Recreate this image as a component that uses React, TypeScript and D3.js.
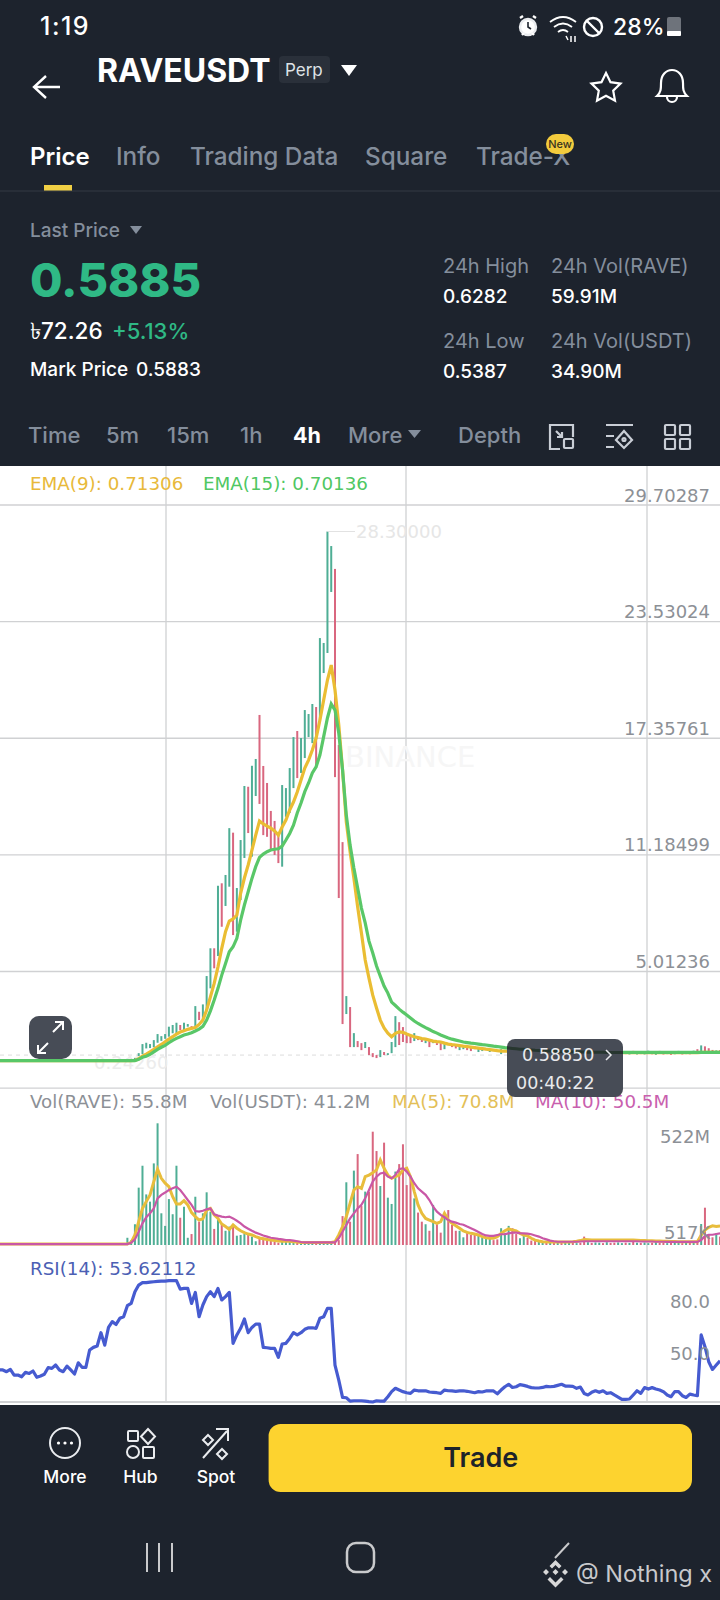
// RAVEUSDT perp screen: price candles with EMA, volume with MA, RSI pane
import { useEffect, useRef } from 'react'
import * as d3 from 'd3'

const UI = 'Inter, Roboto, sans-serif'
const CHART_FONT = '"DejaVu Sans", sans-serif'
const BG = '#1d232d'
const GRAY = '#848e9c'
const UP = '#4fae95'
const DOWN = '#d9677f'

const priceTicks = [29.70287, 23.53024, 17.35761, 11.18499, 5.01236, -1.16]
const rsiTicks = [80, 50]

const candleDir = (
  'grggrgrgrg' + 'ggrgrggrgr' + 'ggrgrggrgg' + 'grgggggggg' + 'gggggggrgg' +
  'rgrgggrgrg' + 'grgggrggrr' + 'rrrrggggrg' + 'gggrggggrr' + 'rgrgrrgrrr' +
  'grgggrrrrg' + 'rrgrgrrgrr' + 'rggrrrgggg' + 'rrgggrrggr' + 'rrggrgrgrg' +
  'grgrrgrggr' + 'grrggrgrgr' + 'ggrgrrgrgg' + 'rgrgrgrrrg' + 'r'
).split('')

const candleHigh = [
  .34, .36, .33, .35, .37, .33, .34, .36, .35, .33,
  .34, .37, .36, .33, .35, .34, .36, .37, .33, .35,
  .36, .34, .33, .37, .35, .36, .34, .38, .36, .35,
  .38, .36, .37, .39, .40, .44, .69, 1.17, 1.24, 1.17,
  1.38, 1.70, 1.59, 1.70, 2.09, 2.18, 2.30, 2.18, 2.30, 2.23,
  2.12, 3.18, 2.88, 3.27, 4.77, 6.24, 6.24, 9.55, 9.68, 10.12,
  12.60, 12.36, 9.43, 11.97, 14.83, 14.79, 15.90, 16.26, 18.59, 15.89,
  14.99, 13.51, 12.98, 12.34, 14.88, 14.72, 15.78, 17.42, 17.74, 17.37,
  18.85, 18.64, 19.17, 19.01, 22.66, 22.40, 28.30, 27.53, 26.32, 17.00,
  11.86, 3.71, 3.13, 1.75, 1.33, 1.22, 1.28, 1.01, .69, .59,
  .85, .75, .69, 1.28, 2.65, 2.33, 2.07, 1.75, 1.59, 1.75,
  1.49, 1.49, 1.38, 1.38, 1.28, 1.22, 1.22, 1.17, 1.22, 1.12,
  1.12, 1.07, 1.01, 1.01, .96, 1.07, .96, .96, .96, .90,
  .90, .85, .90, .85, .88, .84, .90, .86, .82, .85,
  .83, .80, .84, .82, .86, .81, .79, .83, .80, .82,
  .85, .80, .78, .82, .95, .84, .81, .79, .83, .80,
  .82, .78, .81, .79, .83, .80, .78, .81, .79, .80,
  .78, .82, .79, .77, .81, .78, .80, .77, .79, .81,
  .78, .80, .79, .82, .90, 1.10, 1.05, .95, .86, .84, .85,
]

const candleLow = [
  .26, .24, .27, .25, .26, .24, .27, .25, .26, .24,
  .27, .26, .24, .25, .27, .26, .24, .25, .27, .26,
  .24, .27, .25, .26, .24, .27, .25, .26, .27, .24,
  .26, .27, .25, .28, .29, .31, .53, .64, .94, .96,
  1.00, 1.24, 1.34, 1.45, 1.56, 1.74, 1.74, 1.91, 1.91, 2.09,
  2.00, 2.09, 2.44, 2.44, 2.97, 4.12, 5.18, 5.83, 7.38, 8.48,
  9.50, 6.94, 7.12, 8.79, 11.02, 12.34, 11.09, 14.30, 13.88, 12.23,
  12.14, 11.44, 11.18, 10.75, 10.56, 13.20, 13.40, 14.72, 15.25, 15.52,
  16.31, 17.42, 17.10, 15.78, 18.32, 20.81, 21.87, 25.10, 15.30, 8.90,
  2.23, 2.76, 1.01, 1.01, 1.01, .85, .96, .59, .48, .43,
  .48, .59, .59, .69, 1.01, 1.12, 1.28, 1.22, 1.22, 1.33,
  1.38, 1.28, 1.22, 1.01, 1.22, 1.12, .85, .90, 1.12, 1.01,
  .94, .85, .90, .85, .80, .90, .75, .80, .85, .75,
  .80, .75, .64, .75, .74, .68, .72, .70, .66, .71,
  .69, .65, .70, .68, .66, .67, .64, .69, .66, .68,
  .70, .66, .62, .65, .74, .68, .66, .63, .67, .65,
  .66, .62, .66, .64, .67, .64, .62, .65, .62, .64,
  .62, .66, .63, .60, .65, .62, .64, .60, .63, .66,
  .62, .64, .63, .66, .72, .74, .70, .70, .72, .74, .72,
]

const ema9 = [
  .29, .29, .29, .29, .29, .29, .29, .29, .29, .29,
  .29, .29, .29, .29, .29, .29, .29, .29, .29, .29,
  .29, .29, .29, .29, .29, .29, .29, .29, .29, .29,
  .29, .29, .29, .29, .29, .30, .39, .53, .64, .76,
  .89, 1.03, 1.15, 1.29, 1.43, 1.56, 1.70, 1.81, 1.87, 1.95,
  2.00, 2.05, 2.21, 2.44, 2.97, 3.67, 4.38, 5.26, 6.24, 7.12,
  7.68, 7.79, 8.00, 9.15, 9.96, 10.65, 11.44, 12.23, 12.98, 12.82,
  12.71, 12.60, 12.45, 12.23, 12.66, 13.03, 13.56, 13.98, 14.51, 15.15,
  15.78, 16.20, 16.73, 17.37, 18.32, 19.38, 20.44, 21.23, 19.91, 18.06,
  15.68, 12.92, 11.35, 9.96, 8.44, 7.05, 5.62, 4.66, 3.76, 3.08,
  2.44, 2.02, 1.75, 1.56, 1.74, 1.82, 1.79, 1.70, 1.63, 1.56,
  1.51, 1.46, 1.43, 1.38, 1.33, 1.30, 1.28, 1.22, 1.17, 1.14,
  1.12, 1.09, 1.06, 1.04, 1.01, .98, .96, .93, .90, .88,
  .85, .82, .80, .80, .79, .78, .78, .77, .77, .76,
  .76, .75, .75, .75, .74, .74, .74, .74, .73, .73,
  .73, .73, .73, .73, .73, .73, .72, .72, .72, .72,
  .72, .72, .72, .72, .72, .72, .72, .72, .72, .72,
  .72, .72, .72, .72, .72, .72, .72, .72, .72, .72,
  .72, .72, .72, .72, .72, .73, .73, .73, .73, .73, .73,
]

const ema15 = [
  .29, .29, .29, .29, .29, .29, .29, .29, .29, .29,
  .29, .29, .29, .29, .29, .29, .29, .29, .29, .29,
  .29, .29, .29, .29, .29, .29, .29, .29, .29, .29,
  .29, .29, .29, .29, .29, .29, .36, .47, .53, .62,
  .76, .89, 1.00, 1.10, 1.24, 1.37, 1.47, 1.56, 1.65, 1.70,
  1.77, 1.86, 1.96, 2.11, 2.44, 2.93, 3.50, 4.12, 4.82, 5.44,
  6.06, 6.32, 6.77, 7.73, 8.53, 9.23, 9.94, 10.56, 11.05, 11.23,
  11.35, 11.44, 11.48, 11.51, 11.65, 11.97, 12.32, 12.76, 13.40, 13.93,
  14.53, 14.99, 15.52, 15.85, 16.47, 17.44, 18.43, 19.17, 18.85, 17.63,
  15.68, 13.29, 11.70, 10.49, 9.43, 8.37, 7.58, 6.62, 5.99, 5.30,
  4.77, 4.24, 3.87, 3.39, 3.21, 3.02, 2.86, 2.71, 2.55, 2.39,
  2.26, 2.15, 2.04, 1.94, 1.83, 1.75, 1.65, 1.57, 1.49, 1.43,
  1.38, 1.33, 1.28, 1.25, 1.22, 1.20, 1.17, 1.14, 1.12, 1.09,
  1.06, 1.04, 1.01, .98, .96, .94, .92, .90, .89, .87,
  .86, .84, .83, .82, .81, .80, .79, .78, .77, .77,
  .76, .76, .75, .75, .75, .74, .74, .74, .74, .74,
  .73, .73, .73, .73, .73, .73, .73, .73, .73, .73,
  .73, .73, .73, .73, .73, .73, .73, .73, .73, .73,
  .73, .73, .73, .73, .73, .73, .73, .73, .73, .73, .73,
]

const volume = [
  4, 4, 3, 4, 5, 4, 3, 4, 4, 5,
  3, 4, 4, 3, 5, 4, 4, 3, 4, 5,
  4, 3, 4, 4, 5, 3, 4, 4, 5, 4,
  4, 5, 6, 31, 21, 89, 246, 340, 217, 186,
  350, 522, 136, 82, 197, 132, 340, 117, 164, 31,
  47, 207, 100, 136, 226, 143, 69, 107, 89, 61,
  79, 90, 40, 43, 47, 50, 36, 16, 29, 31,
  29, 24, 13, 10, 19, 19, 19, 16, 13, 7,
  10, 13, 16, 16, 16, 13, 13, 12, 14, 21,
  124, 269, 100, 319, 390, 167, 229, 229, 486, 403,
  253, 439, 203, 176, 315, 347, 432, 257, 296, 200,
  139, 100, 89, 61, 172, 89, 53, 129, 150, 86,
  61, 61, 33, 57, 43, 46, 43, 33, 29, 29,
  21, 24, 72, 50, 82, 72, 47, 29, 39, 31,
  19, 19, 16, 14, 13, 11, 9, 10, 12, 9,
  10, 11, 8, 10, 36, 12, 9, 11, 10, 8,
  12, 9, 10, 11, 8, 10, 9, 24, 10, 9,
  11, 8, 10, 12, 9, 10, 8, 11, 9, 10,
  8, 11, 9, 10, 9, 90, 160, 43, 33, 50, 36,
]

const ma5 = [
  4, 4, 4, 4, 4, 4, 4, 4, 4, 4,
  4, 4, 4, 4, 4, 4, 4, 4, 4, 4,
  4, 4, 4, 4, 4, 4, 4, 4, 4, 4,
  4, 4, 4, 4, 11, 43, 100, 157, 186, 215,
  272, 325, 286, 265, 250, 207, 176, 176, 190, 172,
  139, 122, 107, 112, 150, 157, 129, 114, 90, 79,
  67, 86, 72, 61, 53, 47, 43, 36, 30, 27,
  24, 21, 19, 17, 16, 16, 16, 14, 13, 11,
  11, 11, 11, 11, 11, 11, 11, 11, 14, 43,
  79, 122, 179, 236, 250, 243, 293, 300, 310, 322,
  365, 329, 300, 286, 293, 300, 322, 329, 293, 229,
  172, 136, 114, 107, 100, 93, 100, 136, 107, 93,
  83, 72, 60, 54, 50, 47, 43, 36, 31, 29,
  29, 36, 50, 61, 69, 64, 60, 50, 43, 39,
  29, 21, 17, 14, 13, 13, 13, 13, 13, 13,
  13, 14, 16, 19, 24, 23, 21, 21, 21, 21,
  21, 21, 21, 21, 21, 21, 21, 21, 20, 19,
  19, 18, 18, 17, 17, 16, 16, 15, 15, 14,
  14, 14, 14, 14, 14, 43, 64, 76, 82, 79, 82,
]

const ma10 = [
  4, 4, 4, 4, 4, 4, 4, 4, 4, 4,
  4, 4, 4, 4, 4, 4, 4, 4, 4, 4,
  4, 4, 4, 4, 4, 4, 4, 4, 4, 4,
  4, 4, 4, 4, 10, 24, 57, 93, 119, 136,
  157, 200, 215, 225, 236, 243, 250, 236, 215, 193,
  172, 146, 143, 147, 153, 157, 132, 126, 122, 119,
  122, 114, 104, 93, 79, 70, 61, 53, 47, 41,
  36, 31, 29, 26, 24, 21, 21, 19, 16, 13,
  11, 11, 11, 11, 11, 11, 11, 11, 11, 29,
  57, 86, 114, 136, 157, 172, 200, 236, 272, 293,
  307, 310, 293, 286, 300, 325, 329, 315, 293, 265,
  243, 229, 215, 193, 164, 143, 129, 119, 107, 100,
  96, 90, 87, 79, 72, 64, 56, 47, 41, 39,
  39, 43, 46, 47, 50, 53, 53, 51, 50, 49,
  46, 41, 36, 29, 24, 19, 16, 14, 14, 14,
  14, 14, 14, 15, 16, 16, 16, 16, 16, 16,
  16, 16, 16, 16, 16, 16, 16, 16, 16, 15,
  15, 15, 15, 14, 14, 14, 13, 13, 13, 13,
  13, 13, 13, 13, 13, 21, 39, 44, 44, 47, 50,
]

const rsi = [
  41.0, 40.0, 41.3, 38.1, 38.1, 37.1, 39.6, 39.0, 40.4, 36.8,
  37.5, 38.5, 42.3, 41.9, 43.8, 41.0, 40.0, 43.2, 41.0, 38.7,
  45.1, 42.5, 42.5, 52.4, 53.9, 54.7, 62.3, 55.2, 65.3, 68.6,
  67.0, 70.5, 71.4, 77.7, 79.0, 85.7, 89.5, 90.9, 90.9, 91.2,
  91.4, 91.6, 91.8, 91.8, 92.0, 92.0, 92.0, 87.2, 87.6, 87.6,
  79.0, 85.3, 71.4, 78.1, 82.9, 85.7, 82.9, 87.6, 81.0, 82.9,
  85.3, 56.2, 61.0, 64.8, 70.1, 62.3, 65.3, 67.2, 67.2, 53.9,
  53.7, 53.3, 53.3, 48.2, 55.8, 56.2, 59.0, 62.3, 61.0, 62.3,
  64.2, 65.1, 65.1, 64.8, 70.5, 71.4, 76.2, 76.2, 43.8, 35.2,
  25.3, 25.1, 23.2, 23.4, 23.4, 23.4, 23.2, 22.9, 22.7, 23.4,
  23.2, 23.2, 25.7, 28.6, 30.5, 29.5, 28.6, 28.0, 27.6, 29.5,
  29.1, 29.1, 29.1, 28.4, 28.2, 28.0, 27.6, 29.5, 29.1, 29.0,
  28.8, 29.0, 29.1, 28.8, 28.4, 28.0, 28.6, 28.4, 29.0, 29.0,
  29.0, 27.4, 29.5, 31.4, 32.8, 31.0, 31.4, 32.6, 32.2, 31.6,
  30.9, 30.7, 30.7, 31.0, 31.6, 31.4, 31.6, 32.2, 32.8, 31.8,
  31.8, 31.6, 30.5, 31.2, 27.6, 26.7, 28.2, 29.1, 28.2, 29.1,
  27.6, 28.0, 26.7, 25.5, 24.2, 24.2, 24.4, 26.7, 29.1, 27.6,
  30.9, 30.1, 30.9, 30.1, 29.5, 28.6, 26.7, 25.7, 28.6, 28.6,
  26.3, 25.3, 27.2, 26.7, 26.3, 61.0, 54.3, 45.7, 41.3, 43.8, 46.3,
]

const W = 720, H = 1600
const CHART_TOP = 466, CHART_BOTTOM = 1405

function ChartPanes() {
  const ref = useRef<SVGGElement>(null)

  useEffect(() => {
    const g = d3.select(ref.current)
    g.selectAll('*').remove()

    const x = d3.scaleLinear().domain([0, 190]).range([2.8, 720.05])
    const yPrice = d3.scaleLinear().domain([-1.16, 29.70287]).range([1088.1, 505])
    const yVol = d3.scaleLinear().domain([0, 522]).range([1245, 1123.3])
    const yRsi = d3.scaleLinear().domain([50, 80]).range([1354.2, 1301.7])
    const gridColor = '#d0d1d3'

    g.append('rect').attr('y', CHART_TOP).attr('width', W).attr('height', CHART_BOTTOM - CHART_TOP).attr('fill', '#fff')

    // grid
    g.append('g').selectAll('line').data(priceTicks).join('line')
      .attr('x1', 0).attr('x2', W)
      .attr('y1', (d) => yPrice(d)).attr('y2', (d) => yPrice(d))
      .attr('stroke', gridColor).attr('stroke-width', 1.3)
    g.append('g').selectAll('line').data([166, 406, 647]).join('line')
      .attr('x1', (d) => d).attr('x2', (d) => d)
      .attr('y1', CHART_TOP).attr('y2', 1402)
      .attr('stroke', gridColor).attr('stroke-width', 1.3)
    g.append('line').attr('x1', 0).attr('x2', W).attr('y1', 1402).attr('y2', 1402)
      .attr('stroke', gridColor).attr('stroke-width', 2)

    // watermark
    g.append('text').attr('x', 345).attr('y', 767).text('BINANCE')
      .attr('font-family', CHART_FONT).attr('font-size', 29).attr('fill', '#f6f6f6')

    // price axis labels sit just above their grid line
    const priceAxis = g.append('g').attr('transform', 'translate(710,0)')
      .call(d3.axisLeft(yPrice).tickValues(priceTicks.slice(0, 5)).tickSize(0).tickFormat(d3.format('.5f')))
    priceAxis.select('.domain').remove()
    priceAxis.selectAll('text')
      .attr('font-family', CHART_FONT).attr('font-size', 18).attr('fill', '#8c9096')
      .attr('x', 0).attr('dy', -4).attr('dominant-baseline', 'auto')

    // last price dashed line
    g.append('line').attr('x1', 0).attr('x2', 507).attr('y1', yPrice(0.5885)).attr('y2', yPrice(0.5885))
      .attr('stroke', '#dcdcdc').attr('stroke-dasharray', '4 4')

    // candles
    g.append('g').selectAll('rect').data(candleHigh).join('rect')
      .attr('x', (_, i) => x(i) - 1).attr('width', 2)
      .attr('y', (d) => yPrice(d))
      .attr('height', (d, i) => Math.max(1, yPrice(candleLow[i]) - yPrice(d)))
      .attr('fill', (_, i) => (candleDir[i] === 'g' ? UP : DOWN))

    // high / low notes
    g.append('line').attr('x1', x(86)).attr('x2', 355).attr('y1', yPrice(28.3)).attr('y2', yPrice(28.3))
      .attr('stroke', '#e2e2e2')
    g.append('text').attr('x', 356).attr('y', yPrice(28.3) + 6).text('28.30000')
      .attr('font-family', CHART_FONT).attr('font-size', 18).attr('fill', '#e6e6e6')
    g.append('text').attr('x', 94).attr('y', 1069).text('0.24260')
      .attr('font-family', CHART_FONT).attr('font-size', 18).attr('fill', '#ececec')

    // lines run off the left edge of the pane, so each is led in from one slot before its first value
    const leadIn = (values: number[]) => [values[0], ...values]
    const priceLine = d3.line<number>().x((_, i) => x(i - 1)).y((d) => yPrice(d))
    g.append('path').attr('d', priceLine(leadIn(ema9))).attr('fill', 'none').attr('stroke', '#eabd33').attr('stroke-width', 3.2)
    g.append('path').attr('d', priceLine(leadIn(ema15))).attr('fill', 'none').attr('stroke', '#59c768').attr('stroke-width', 3.2)

    // volume pane
    g.append('g').selectAll('rect').data(volume).join('rect')
      .attr('x', (_, i) => x(i) - 1).attr('width', 2)
      .attr('y', (d) => yVol(d)).attr('height', (d) => yVol(0) - yVol(d))
      .attr('fill', (_, i) => (candleDir[i] === 'g' ? UP : DOWN))
    const volLine = d3.line<number>().x((_, i) => x(i - 1)).y((d) => yVol(d))
    g.append('path').attr('d', volLine(leadIn(ma5))).attr('fill', 'none').attr('stroke', '#e8bd3c').attr('stroke-width', 3)
    g.append('path').attr('d', volLine(leadIn(ma10))).attr('fill', 'none').attr('stroke', '#c957a6').attr('stroke-width', 2.2)

    // RSI pane
    const rsiLine = d3.line<number>().x((_, i) => x(i - 1)).y((d) => yRsi(d))
    g.append('path').attr('d', rsiLine(leadIn(rsi))).attr('fill', 'none').attr('stroke', '#465bd0').attr('stroke-width', 3.2)
      .attr('stroke-linejoin', 'round')
    g.append('g').selectAll('text').data(rsiTicks).join('text')
      .attr('x', 710).attr('y', (d) => yRsi(d) + 6).attr('text-anchor', 'end')
      .text((d) => d.toFixed(1))
      .attr('font-family', CHART_FONT).attr('font-size', 18).attr('fill', '#8c9096')

    // volume axis labels
    g.append('text').attr('x', 710).attr('y', 1143).attr('text-anchor', 'end').text('522M')
      .attr('font-family', CHART_FONT).attr('font-size', 18).attr('fill', '#8c9096')
    g.append('text').attr('x', 664).attr('y', 1239).text('517K')
      .attr('font-family', CHART_FONT).attr('font-size', 18).attr('fill', '#8c9096')

    // pane legends
    const legend = (tx: number, ty: number, label: string, fill: string) =>
      g.append('text').attr('x', tx).attr('y', ty).text(label)
        .attr('font-family', CHART_FONT).attr('font-size', 18.3).attr('fill', fill)
    legend(30, 490, 'EMA(9): 0.71306', '#e8b93a')
    legend(203, 490, 'EMA(15): 0.70136', '#4fc763')
    legend(30, 1108, 'Vol(RAVE): 55.8M', '#8c9096')
    legend(210, 1108, 'Vol(USDT): 41.2M', '#8c9096')
    legend(392, 1108, 'MA(5): 70.8M', '#e3bf58')
    legend(535, 1108, 'MA(10): 50.5M', '#c95fae')
    legend(30, 1275, 'RSI(14): 53.62112', '#4c5fb4')

    // countdown tag, the EMA line shows through it
    const tag = { x: 507, y: 1039, w: 116, h: 58 }
    g.append('clipPath').attr('id', 'tag-clip').append('rect')
      .attr('x', tag.x).attr('y', tag.y).attr('width', tag.w).attr('height', tag.h)
    g.append('rect').attr('x', tag.x).attr('y', tag.y).attr('width', tag.w).attr('height', tag.h)
      .attr('rx', 8).attr('fill', '#474c56')
    g.append('path').attr('d', priceLine(leadIn(ema15))).attr('fill', 'none').attr('stroke', '#27362f')
      .attr('stroke-width', 3).attr('clip-path', 'url(#tag-clip)')
    g.append('text').attr('x', 522).attr('y', 1061).text('0.58850')
      .attr('font-family', CHART_FONT).attr('font-size', 17.5).attr('fill', '#e9eaec')
    g.append('text').attr('x', 516).attr('y', 1089).text('00:40:22')
      .attr('font-family', CHART_FONT).attr('font-size', 17.5).attr('fill', '#e9eaec')
    g.append('path').attr('d', 'M606 1050l5 5-5 5').attr('fill', 'none').attr('stroke', '#e9eaec').attr('stroke-width', 1.5)
  }, [])

  return <g ref={ref} />
}

function Label(p: { x: number; y: number; t: string; s: number; c?: string; w?: number; a?: string; ls?: number }) {
  return (
    <text x={p.x} y={p.y} fontSize={p.s} fill={p.c ?? '#fff'} fontWeight={p.w ?? 500} textAnchor={p.a as any} letterSpacing={p.ls} fontFamily={UI}>
      {p.t}
    </text>
  )
}

export default function App() {
  const icon = { fill: 'none', stroke: '#eaecef', strokeWidth: 2 }
  const tabIcon = { fill: 'none', stroke: '#c9ced6', strokeWidth: 2.2 }
  return (
    <svg width={W} height={H} style={{ position: 'fixed', left: 0, top: 0, display: 'block' }}>
      <rect width={W} height={H} fill={BG} />

      {/* status bar */}
      <Label x={40} y={35} t="1:19" s={25} ls={1.5} />
      <g {...icon} strokeWidth={2.4}>
        <circle cx={528} cy={27} r={8} fill="#fff" />
        <path d="M528 22v5l3 2" stroke={BG} strokeWidth={1.6} />
        <path d="M520 18l3-2M536 18l-3-2M522 35l2-2M534 35l-2-2" stroke="#fff" />
        <path d="M550 22q13-10 26 0M554 27q9-7 18 0M558 32q5-4 10 0" stroke="#fff" strokeWidth={1.8} />
        <path d="M566 36l2 4M571 36v6M575 42v-6" stroke="#fff" strokeWidth={1.5} />
        <circle cx={593} cy={27} r={9} stroke="#fff" />
        <path d="M587 21l12 12" stroke="#fff" />
      </g>
      <Label x={613} y={35} t="28%" s={23} />
      <rect x={667} y={17} width={14} height={19} rx={2} fill="#6e737b" />
      <rect x={667} y={31} width={14} height={5} rx={1} fill="#fff" />

      {/* header */}
      <path d="M60 87H35M46 76L34 87l12 11" fill="none" stroke="#fff" strokeWidth={2.4} />
      <Label x={97} y={82} t="RAVEUSDT" s={32} w={700} />
      <rect x={279} y={56} width={51} height={27} rx={4} fill="#2a303a" />
      <Label x={285} y={76} t="Perp" s={17} c="#dfe2e6" w={400} />
      <path d="M341 65h16l-8 11z" fill="#fff" />
      <path d="M606 73l4.5 9.200 10 1.400-7.300 7 1.800 10-9-4.800-9 4.800 1.800-10-7.300-7 10-1.400z" fill="none" stroke="#fff" strokeWidth={2.2} />
      <path d="M657 96h30c-4-4-4-7-4-13 0-8-5-13-11-13s-11 5-11 13c0 6 0 9-4 13zM667 97a5 5 0 0 0 10 0" fill="none" stroke="#fff" strokeWidth={2.2} />

      {/* tabs */}
      <Label x={30} y={165} t="Price" s={24} w={600} />
      <Label x={116} y={165} t="Info" s={24.3} c={GRAY} />
      <Label x={190} y={165} t="Trading Data" s={24.3} c={GRAY} />
      <Label x={365} y={165} t="Square" s={24.3} c={GRAY} />
      <Label x={476} y={165} t="Trade-X" s={24.3} c={GRAY} />
      <rect x={546} y={134} width={28} height={20} rx={10} fill="#f3cb3d" />
      <Label x={560} y={148} t="New" s={11} c="#3a3320" a="middle" />
      <rect x={44} y={185} width={28} height={6} fill="#f0cf44" />
      <line x1={0} x2={W} y1={191} y2={191} stroke="#343a44" strokeWidth={1} />

      {/* price block */}
      <Label x={30} y={237} t="Last Price" s={19} c={GRAY} />
      <path d="M130 226h12l-6 8z" fill={GRAY} />
      <Label x={30} y={297} t="0.5885" s={47} c="#2fb985" w={800} />
      <Label x={30} y={339} t="৳72.26" s={22.5} />
      <Label x={112} y={339} t="+5.13%" s={22} c="#2fb985" />
      <Label x={30} y={376} t="Mark Price" s={19} />
      <Label x={136} y={376} t="0.5883" s={19} />
      <Label x={443} y={273} t="24h High" s={20} c={GRAY} w={400} />
      <Label x={551} y={273} t="24h Vol(RAVE)" s={20} c={GRAY} w={400} />
      <Label x={443} y={303} t="0.6282" s={19} />
      <Label x={551} y={303} t="59.91M" s={19} />
      <Label x={443} y={348} t="24h Low" s={20} c={GRAY} w={400} />
      <Label x={551} y={348} t="24h Vol(USDT)" s={20} c={GRAY} w={400} />
      <Label x={443} y={378} t="0.5387" s={19} />
      <Label x={551} y={378} t="34.90M" s={19} />

      {/* interval row */}
      <Label x={28} y={443} t="Time" s={22} c={GRAY} />
      <Label x={106} y={443} t="5m" s={22} c={GRAY} />
      <Label x={167} y={443} t="15m" s={22} c={GRAY} />
      <Label x={240} y={443} t="1h" s={22} c={GRAY} />
      <Label x={293} y={443} t="4h" s={21.5} w={700} />
      <Label x={348} y={443} t="More" s={22} c={GRAY} />
      <path d="M408 430h13l-6.500 8z" fill={GRAY} />
      <Label x={458} y={443} t="Depth" s={22} c={GRAY} />
      <g {...tabIcon}>
        <path d="M560 449h-10v-24h23v12M556 431l6 6M562 432v5h-5" />
        <rect x={564} y={439} width={9} height={9} rx={1} />
        <path d="M606 425h27M606 436h8M606 447h8" />
        <path d="M624 431l8 9-8 8-8-8z" />
        <circle cx={624} cy={439.500} r={1.500} />
        <rect x={665} y={425} width={10} height={10} rx={1} />
        <rect x={680} y={425} width={10} height={10} rx={1} />
        <rect x={665} y={439} width={10} height={10} rx={1} />
        <rect x={680} y={439} width={10} height={10} rx={1} />
      </g>

      <ChartPanes />

      {/* expand button */}
      <rect x={29} y={1016} width={43} height={43} rx={10} fill="#474c56" />
      <path d="M53 1032l10-10M55 1022h8v8M48 1043l-10 10M38 1045v8h8" fill="none" stroke="#fff" strokeWidth={2} />

      {/* bottom bar */}
      <circle cx={65} cy={1443} r={15} {...icon} />
      <circle cx={58.500} cy={1443} r={1.600} fill="#fff" />
      <circle cx={65} cy={1443} r={1.600} fill="#fff" />
      <circle cx={71.500} cy={1443} r={1.600} fill="#fff" />
      <g {...icon}>
        <rect x={128} y={1431} width={10} height={10} rx={1} />
        <path d="M148 1429l7 7.500-7 7.500-7-7.500z" />
        <circle cx={133} cy={1452} r={6} />
        <rect x={143} y={1447} width={11} height={11} rx={1} />
        <path d="M203 1458l24-27M216 1429h12v12" />
        <path d="M208 1435l5 5-5 5-5-5zM222 1449l5 5-5 5-5-5z" />
      </g>
      <Label x={65} y={1483} t="More" s={17.5} a="middle" />
      <Label x={140.500} y={1483} t="Hub" s={17.5} a="middle" />
      <Label x={216} y={1483} t="Spot" s={17.5} a="middle" />
      <rect x={268.600} y={1424} width={423.400} height={68} rx={12} fill="#fdd32f" />
      <Label x={480.700} y={1467} t="Trade" s={27} c="#1e2329" w={600} a="middle" />

      {/* nav bar + overlay */}
      <g stroke="#c9cacc" strokeWidth={2} fill="none">
        <path d="M147 1543v29M159 1543v29M172 1543v29" />
        <rect x={347} y={1543} width={27} height={29} rx={9} strokeWidth={2.500} />
        <path d="M569 1543l-14 15" />
      </g>
      <g fill="#d8d8d8">
        <path d="M555.500 1560l6 6-2.500 2.500-3.500-3.500-3.500 3.500-2.500-2.500z" />
        <path d="M555.500 1569l3 3-3 3-3-3z" />
        <path d="M546 1569l3 3-3 3-3-3zM565 1569l3 3-3 3-3-3z" />
        <path d="M550 1577l5.500 5.500 5.500-5.500 2.500 2.500-8 8-8-8z" />
      </g>
      <Label x={576} y={1582} t="@ Nothing x" s={23.5} c="#c8c9cc" w={400} />
    </svg>
  )
}
